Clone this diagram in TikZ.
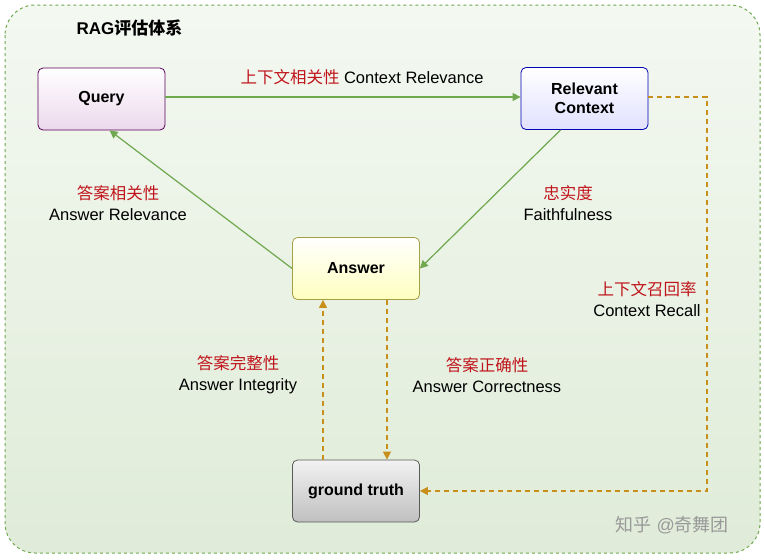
\documentclass[tikz,border=0pt]{standalone}
\usepackage{fontspec}
\setmainfont{Liberation Sans}
\newfontfamily\cjk{Noto Sans CJK SC}
\usetikzlibrary{arrows.meta}
\definecolor{gr}{HTML}{6FA84F}
\definecolor{og}{HTML}{C8901A}
\definecolor{rd}{HTML}{C0141B}
\tikzset{
 box/.style={draw=#1!70!black, rounded corners=5pt, minimum width=127pt, minimum height=62pt, align=center, font=\fontsize{16}{19}\selectfont\bfseries, line width=0.8pt},
 ga/.style={draw=gr, line width=1.2pt, -{Triangle[length=8pt,width=8pt]}},
 oa/.style={draw=og, line width=1.2pt, dashed, dash pattern=on 5pt off 4pt, -{Triangle[length=8pt,width=8pt]}},
 lab/.style={align=center, font=\fontsize{16.5}{21}\selectfont}
}
\newcommand{\zh}[1]{{\cjk\color{rd}#1}}
\begin{document}
\begin{tikzpicture}[x=1pt,y=-1pt]
\useasboundingbox (0,0) rectangle (764,560);
\draw[draw=gr, dashed, line width=1pt, rounded corners=30pt, top color=gr!8, bottom color=gr!22] (5,5) rectangle (760,553);
\node[anchor=west, font=\fontsize{17}{20}\selectfont\bfseries] (t) at (73,28) {RAG{\cjk 评估体系}};
\node[box=violet, top color=white, bottom color=violet!15] (q) at (101.5,99) {Query};
\node[box=blue, top color=white, bottom color=blue!12] (r) at (584.5,98.5) {Relevant\\Context};
\node[box=yellow, draw=yellow!60!black, top color=white, bottom color=yellow!25] (a) at (356,268.5) {Answer};
\node[box=gray, top color=gray!10, bottom color=gray!50] (g) at (356,491) {ground truth};
\draw[ga] (q.east |- 0,97) -- (r.west |- 0,97);
\draw[ga] (r.south west)++(40,0) -- (a.east);
\draw[ga] (a.west) -- ([xshift=72pt]q.south west);
\coordinate (c1) at (707,97);
\coordinate (c2) at (707,491);
\draw[oa] (r.east |- c1) -- (c1) -- (c2) -- (g.east);
\draw[oa] ([xshift=31pt]a.south) -- ([xshift=31pt]g.north);
\draw[oa] ([xshift=-33pt]g.north) -- ([xshift=-33pt]a.south);
\node[lab] (l1) at (362,77) {\zh{上下文相关性} Context Relevance};
\node[lab] (l2) at (118,203) {\zh{答案相关性}\\Answer Relevance};
\node[lab] (l3) at (568,203) {\zh{忠实度}\\Faithfulness};
\node[lab] (l4) at (647,299) {\zh{上下文召回率}\\Context Recall};
\node[lab] (l5) at (238,375) {\zh{答案完整性}\\Answer Integrity};
\node[lab] (l6) at (487,375) {\zh{答案正确性}\\Answer Correctness};
\node[anchor=west, font=\fontsize{18}{20}\selectfont, text=gray!80] (w) at (612,525) {{\cjk 知乎} @{\cjk 奇舞团}};
\end{tikzpicture}
\end{document}
